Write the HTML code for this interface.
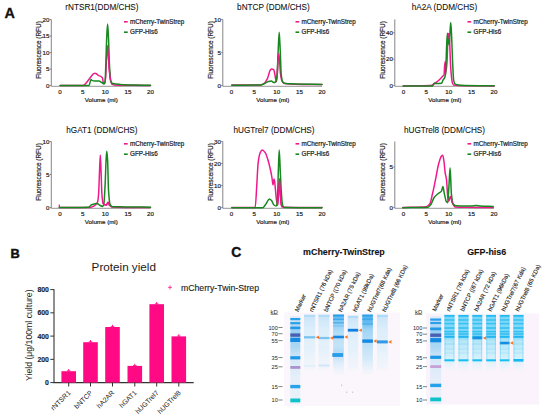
<!DOCTYPE html>
<html><head><meta charset="utf-8"><style>
html,body{margin:0;padding:0;background:#fff;width:550px;height:418px;overflow:hidden}
svg{display:block}
text{font-family:"Liberation Sans", sans-serif}
</style></head><body>
<svg width="550" height="418" viewBox="0 0 550 418">
<rect width="550" height="418" fill="#fff"/>
<g>
<text x="101.90" y="10.30" font-size="8.20" text-anchor="middle" font-weight="normal" fill="#111" stroke="#111" stroke-width="0.08" >rNTSR1(DDM/CHS)</text>
<line x1="51.30" y1="19.50" x2="51.30" y2="86.30" stroke="#777" stroke-width="0.9"/>
<line x1="51.30" y1="86.30" x2="150.50" y2="86.30" stroke="#8a8a8a" stroke-width="0.9"/>
<line x1="49.70" y1="85.60" x2="51.30" y2="85.60" stroke="#777" stroke-width="0.9"/>
<text x="49.50" y="87.80" font-size="6.20" text-anchor="end" font-weight="normal" fill="#222" stroke="#222" stroke-width="0.20" >0</text>
<line x1="49.70" y1="69.07" x2="51.30" y2="69.07" stroke="#777" stroke-width="0.9"/>
<text x="49.50" y="71.27" font-size="6.20" text-anchor="end" font-weight="normal" fill="#222" stroke="#222" stroke-width="0.20" >5</text>
<line x1="49.70" y1="52.55" x2="51.30" y2="52.55" stroke="#777" stroke-width="0.9"/>
<text x="49.50" y="54.75" font-size="6.20" text-anchor="end" font-weight="normal" fill="#222" stroke="#222" stroke-width="0.20" >10</text>
<line x1="49.70" y1="36.02" x2="51.30" y2="36.02" stroke="#777" stroke-width="0.9"/>
<text x="49.50" y="38.23" font-size="6.20" text-anchor="end" font-weight="normal" fill="#222" stroke="#222" stroke-width="0.20" >15</text>
<line x1="49.70" y1="19.50" x2="51.30" y2="19.50" stroke="#777" stroke-width="0.9"/>
<text x="49.50" y="21.70" font-size="6.20" text-anchor="end" font-weight="normal" fill="#222" stroke="#222" stroke-width="0.20" >20</text>
<text x="60.10" y="93.60" font-size="6.20" text-anchor="middle" font-weight="normal" fill="#222" stroke="#222" stroke-width="0.20" >0</text>
<text x="82.70" y="93.60" font-size="6.20" text-anchor="middle" font-weight="normal" fill="#222" stroke="#222" stroke-width="0.20" >5</text>
<text x="105.30" y="93.60" font-size="6.20" text-anchor="middle" font-weight="normal" fill="#222" stroke="#222" stroke-width="0.20" >10</text>
<text x="127.90" y="93.60" font-size="6.20" text-anchor="middle" font-weight="normal" fill="#222" stroke="#222" stroke-width="0.20" >15</text>
<text x="150.50" y="93.60" font-size="6.20" text-anchor="middle" font-weight="normal" fill="#222" stroke="#222" stroke-width="0.20" >20</text>
<text x="101.30" y="101.80" font-size="6.20" text-anchor="middle" font-weight="normal" fill="#222" stroke="#222" stroke-width="0.20" >Volume (ml)</text>
<text x="0" y="0" font-size="6.4" text-anchor="middle" fill="#222" stroke="#222" stroke-width="0.2" transform="translate(41.00,50.00) rotate(-90)">Fluorescence (RFU)</text>
<line x1="124.00" y1="21.80" x2="127.70" y2="21.80" stroke="#F0198C" stroke-width="1.6"/>
<line x1="124.00" y1="32.20" x2="127.70" y2="32.20" stroke="#17871F" stroke-width="1.6"/>
<text x="130.00" y="24.00" font-size="6.30" text-anchor="start" font-weight="normal" fill="#1a1a1a" stroke="#1a1a1a" stroke-width="0.20" >mCherry-TwinStrep</text>
<text x="130.00" y="34.40" font-size="6.30" text-anchor="start" font-weight="normal" fill="#1a1a1a" stroke="#1a1a1a" stroke-width="0.20" >GFP-His6</text>
</g>
<g>
<text x="273.40" y="10.30" font-size="8.20" text-anchor="middle" font-weight="normal" fill="#111" stroke="#111" stroke-width="0.08" >bNTCP (DDM/CHS)</text>
<line x1="222.80" y1="19.50" x2="222.80" y2="86.30" stroke="#777" stroke-width="0.9"/>
<line x1="222.80" y1="86.30" x2="322.00" y2="86.30" stroke="#8a8a8a" stroke-width="0.9"/>
<line x1="221.20" y1="85.60" x2="222.80" y2="85.60" stroke="#777" stroke-width="0.9"/>
<text x="221.00" y="87.80" font-size="6.20" text-anchor="end" font-weight="normal" fill="#222" stroke="#222" stroke-width="0.20" >0</text>
<line x1="221.20" y1="52.55" x2="222.80" y2="52.55" stroke="#777" stroke-width="0.9"/>
<text x="221.00" y="54.75" font-size="6.20" text-anchor="end" font-weight="normal" fill="#222" stroke="#222" stroke-width="0.20" >5</text>
<line x1="221.20" y1="19.50" x2="222.80" y2="19.50" stroke="#777" stroke-width="0.9"/>
<text x="221.00" y="21.70" font-size="6.20" text-anchor="end" font-weight="normal" fill="#222" stroke="#222" stroke-width="0.20" >10</text>
<text x="231.60" y="93.60" font-size="6.20" text-anchor="middle" font-weight="normal" fill="#222" stroke="#222" stroke-width="0.20" >0</text>
<text x="254.20" y="93.60" font-size="6.20" text-anchor="middle" font-weight="normal" fill="#222" stroke="#222" stroke-width="0.20" >5</text>
<text x="276.80" y="93.60" font-size="6.20" text-anchor="middle" font-weight="normal" fill="#222" stroke="#222" stroke-width="0.20" >10</text>
<text x="299.40" y="93.60" font-size="6.20" text-anchor="middle" font-weight="normal" fill="#222" stroke="#222" stroke-width="0.20" >15</text>
<text x="322.00" y="93.60" font-size="6.20" text-anchor="middle" font-weight="normal" fill="#222" stroke="#222" stroke-width="0.20" >20</text>
<text x="272.80" y="101.80" font-size="6.20" text-anchor="middle" font-weight="normal" fill="#222" stroke="#222" stroke-width="0.20" >Volume (ml)</text>
<text x="0" y="0" font-size="6.4" text-anchor="middle" fill="#222" stroke="#222" stroke-width="0.2" transform="translate(212.50,50.00) rotate(-90)">Fluorescence (RFU)</text>
<line x1="295.50" y1="21.80" x2="299.20" y2="21.80" stroke="#F0198C" stroke-width="1.6"/>
<line x1="295.50" y1="32.20" x2="299.20" y2="32.20" stroke="#17871F" stroke-width="1.6"/>
<text x="301.50" y="24.00" font-size="6.30" text-anchor="start" font-weight="normal" fill="#1a1a1a" stroke="#1a1a1a" stroke-width="0.20" >mCherry-TwinStrep</text>
<text x="301.50" y="34.40" font-size="6.30" text-anchor="start" font-weight="normal" fill="#1a1a1a" stroke="#1a1a1a" stroke-width="0.20" >GFP-His6</text>
</g>
<g>
<text x="444.50" y="10.30" font-size="8.20" text-anchor="middle" font-weight="normal" fill="#111" stroke="#111" stroke-width="0.08" >hA2A (DDM/CHS)</text>
<line x1="394.80" y1="19.50" x2="394.80" y2="86.30" stroke="#777" stroke-width="0.9"/>
<line x1="394.80" y1="86.30" x2="494.00" y2="86.30" stroke="#8a8a8a" stroke-width="0.9"/>
<line x1="393.20" y1="85.60" x2="394.80" y2="85.60" stroke="#777" stroke-width="0.9"/>
<text x="393.00" y="87.80" font-size="6.20" text-anchor="end" font-weight="normal" fill="#222" stroke="#222" stroke-width="0.20" >0</text>
<line x1="393.20" y1="59.16" x2="394.80" y2="59.16" stroke="#777" stroke-width="0.9"/>
<text x="393.00" y="61.36" font-size="6.20" text-anchor="end" font-weight="normal" fill="#222" stroke="#222" stroke-width="0.20" >20</text>
<line x1="393.20" y1="32.72" x2="394.80" y2="32.72" stroke="#777" stroke-width="0.9"/>
<text x="393.00" y="34.92" font-size="6.20" text-anchor="end" font-weight="normal" fill="#222" stroke="#222" stroke-width="0.20" >40</text>
<text x="403.60" y="93.60" font-size="6.20" text-anchor="middle" font-weight="normal" fill="#222" stroke="#222" stroke-width="0.20" >0</text>
<text x="426.20" y="93.60" font-size="6.20" text-anchor="middle" font-weight="normal" fill="#222" stroke="#222" stroke-width="0.20" >5</text>
<text x="448.80" y="93.60" font-size="6.20" text-anchor="middle" font-weight="normal" fill="#222" stroke="#222" stroke-width="0.20" >10</text>
<text x="471.40" y="93.60" font-size="6.20" text-anchor="middle" font-weight="normal" fill="#222" stroke="#222" stroke-width="0.20" >15</text>
<text x="494.00" y="93.60" font-size="6.20" text-anchor="middle" font-weight="normal" fill="#222" stroke="#222" stroke-width="0.20" >20</text>
<text x="444.80" y="101.80" font-size="6.20" text-anchor="middle" font-weight="normal" fill="#222" stroke="#222" stroke-width="0.20" >Volume (ml)</text>
<text x="0" y="0" font-size="6.4" text-anchor="middle" fill="#222" stroke="#222" stroke-width="0.2" transform="translate(384.50,50.00) rotate(-90)">Fluorescence (RFU)</text>
<line x1="467.50" y1="21.80" x2="471.20" y2="21.80" stroke="#F0198C" stroke-width="1.6"/>
<line x1="467.50" y1="32.20" x2="471.20" y2="32.20" stroke="#17871F" stroke-width="1.6"/>
<text x="473.50" y="24.00" font-size="6.30" text-anchor="start" font-weight="normal" fill="#1a1a1a" stroke="#1a1a1a" stroke-width="0.20" >mCherry-TwinStrep</text>
<text x="473.50" y="34.40" font-size="6.30" text-anchor="start" font-weight="normal" fill="#1a1a1a" stroke="#1a1a1a" stroke-width="0.20" >GFP-His6</text>
</g>
<g>
<text x="101.90" y="132.90" font-size="8.20" text-anchor="middle" font-weight="normal" fill="#111" stroke="#111" stroke-width="0.08" >hGAT1 (DDM/CHS)</text>
<line x1="51.30" y1="141.50" x2="51.30" y2="208.30" stroke="#777" stroke-width="0.9"/>
<line x1="51.30" y1="208.30" x2="150.50" y2="208.30" stroke="#8a8a8a" stroke-width="0.9"/>
<line x1="49.70" y1="207.60" x2="51.30" y2="207.60" stroke="#777" stroke-width="0.9"/>
<text x="49.50" y="209.80" font-size="6.20" text-anchor="end" font-weight="normal" fill="#222" stroke="#222" stroke-width="0.20" >0</text>
<line x1="49.70" y1="174.55" x2="51.30" y2="174.55" stroke="#777" stroke-width="0.9"/>
<text x="49.50" y="176.75" font-size="6.20" text-anchor="end" font-weight="normal" fill="#222" stroke="#222" stroke-width="0.20" >5</text>
<line x1="49.70" y1="141.50" x2="51.30" y2="141.50" stroke="#777" stroke-width="0.9"/>
<text x="49.50" y="143.70" font-size="6.20" text-anchor="end" font-weight="normal" fill="#222" stroke="#222" stroke-width="0.20" >10</text>
<text x="60.10" y="215.60" font-size="6.20" text-anchor="middle" font-weight="normal" fill="#222" stroke="#222" stroke-width="0.20" >0</text>
<text x="82.70" y="215.60" font-size="6.20" text-anchor="middle" font-weight="normal" fill="#222" stroke="#222" stroke-width="0.20" >5</text>
<text x="105.30" y="215.60" font-size="6.20" text-anchor="middle" font-weight="normal" fill="#222" stroke="#222" stroke-width="0.20" >10</text>
<text x="127.90" y="215.60" font-size="6.20" text-anchor="middle" font-weight="normal" fill="#222" stroke="#222" stroke-width="0.20" >15</text>
<text x="150.50" y="215.60" font-size="6.20" text-anchor="middle" font-weight="normal" fill="#222" stroke="#222" stroke-width="0.20" >20</text>
<text x="101.30" y="223.80" font-size="6.20" text-anchor="middle" font-weight="normal" fill="#222" stroke="#222" stroke-width="0.20" >Volume (ml)</text>
<text x="0" y="0" font-size="6.4" text-anchor="middle" fill="#222" stroke="#222" stroke-width="0.2" transform="translate(41.00,172.00) rotate(-90)">Fluorescence (RFU)</text>
<line x1="124.00" y1="143.80" x2="127.70" y2="143.80" stroke="#F0198C" stroke-width="1.6"/>
<line x1="124.00" y1="154.20" x2="127.70" y2="154.20" stroke="#17871F" stroke-width="1.6"/>
<text x="130.00" y="146.00" font-size="6.30" text-anchor="start" font-weight="normal" fill="#1a1a1a" stroke="#1a1a1a" stroke-width="0.20" >mCherry-TwinStrep</text>
<text x="130.00" y="156.40" font-size="6.30" text-anchor="start" font-weight="normal" fill="#1a1a1a" stroke="#1a1a1a" stroke-width="0.20" >GFP-His6</text>
</g>
<g>
<text x="274.00" y="132.90" font-size="8.20" text-anchor="middle" font-weight="normal" fill="#111" stroke="#111" stroke-width="0.08" >hUGTrel7 (DDM/CHS)</text>
<line x1="222.80" y1="141.50" x2="222.80" y2="208.30" stroke="#777" stroke-width="0.9"/>
<line x1="222.80" y1="208.30" x2="322.00" y2="208.30" stroke="#8a8a8a" stroke-width="0.9"/>
<line x1="221.20" y1="207.60" x2="222.80" y2="207.60" stroke="#777" stroke-width="0.9"/>
<text x="221.00" y="209.80" font-size="6.20" text-anchor="end" font-weight="normal" fill="#222" stroke="#222" stroke-width="0.20" >0</text>
<line x1="221.20" y1="185.57" x2="222.80" y2="185.57" stroke="#777" stroke-width="0.9"/>
<text x="221.00" y="187.77" font-size="6.20" text-anchor="end" font-weight="normal" fill="#222" stroke="#222" stroke-width="0.20" >10</text>
<line x1="221.20" y1="163.53" x2="222.80" y2="163.53" stroke="#777" stroke-width="0.9"/>
<text x="221.00" y="165.73" font-size="6.20" text-anchor="end" font-weight="normal" fill="#222" stroke="#222" stroke-width="0.20" >20</text>
<line x1="221.20" y1="141.50" x2="222.80" y2="141.50" stroke="#777" stroke-width="0.9"/>
<text x="221.00" y="143.70" font-size="6.20" text-anchor="end" font-weight="normal" fill="#222" stroke="#222" stroke-width="0.20" >30</text>
<text x="231.60" y="215.60" font-size="6.20" text-anchor="middle" font-weight="normal" fill="#222" stroke="#222" stroke-width="0.20" >0</text>
<text x="254.20" y="215.60" font-size="6.20" text-anchor="middle" font-weight="normal" fill="#222" stroke="#222" stroke-width="0.20" >5</text>
<text x="276.80" y="215.60" font-size="6.20" text-anchor="middle" font-weight="normal" fill="#222" stroke="#222" stroke-width="0.20" >10</text>
<text x="299.40" y="215.60" font-size="6.20" text-anchor="middle" font-weight="normal" fill="#222" stroke="#222" stroke-width="0.20" >15</text>
<text x="322.00" y="215.60" font-size="6.20" text-anchor="middle" font-weight="normal" fill="#222" stroke="#222" stroke-width="0.20" >20</text>
<text x="272.80" y="223.80" font-size="6.20" text-anchor="middle" font-weight="normal" fill="#222" stroke="#222" stroke-width="0.20" >Volume (ml)</text>
<text x="0" y="0" font-size="6.4" text-anchor="middle" fill="#222" stroke="#222" stroke-width="0.2" transform="translate(212.50,172.00) rotate(-90)">Fluorescence (RFU)</text>
<line x1="295.50" y1="143.80" x2="299.20" y2="143.80" stroke="#F0198C" stroke-width="1.6"/>
<line x1="295.50" y1="154.20" x2="299.20" y2="154.20" stroke="#17871F" stroke-width="1.6"/>
<text x="301.50" y="146.00" font-size="6.30" text-anchor="start" font-weight="normal" fill="#1a1a1a" stroke="#1a1a1a" stroke-width="0.20" >mCherry-TwinStrep</text>
<text x="301.50" y="156.40" font-size="6.30" text-anchor="start" font-weight="normal" fill="#1a1a1a" stroke="#1a1a1a" stroke-width="0.20" >GFP-His6</text>
</g>
<g>
<text x="444.50" y="132.90" font-size="8.20" text-anchor="middle" font-weight="normal" fill="#111" stroke="#111" stroke-width="0.08" >hUGTrel8 (DDM/CHS)</text>
<line x1="394.80" y1="141.50" x2="394.80" y2="208.30" stroke="#777" stroke-width="0.9"/>
<line x1="394.80" y1="208.30" x2="494.00" y2="208.30" stroke="#8a8a8a" stroke-width="0.9"/>
<line x1="393.20" y1="207.60" x2="394.80" y2="207.60" stroke="#777" stroke-width="0.9"/>
<text x="393.00" y="209.80" font-size="6.20" text-anchor="end" font-weight="normal" fill="#222" stroke="#222" stroke-width="0.20" >0</text>
<line x1="393.20" y1="167.05" x2="394.80" y2="167.05" stroke="#777" stroke-width="0.9"/>
<text x="393.00" y="169.25" font-size="6.20" text-anchor="end" font-weight="normal" fill="#222" stroke="#222" stroke-width="0.20" >5</text>
<text x="403.60" y="215.60" font-size="6.20" text-anchor="middle" font-weight="normal" fill="#222" stroke="#222" stroke-width="0.20" >0</text>
<text x="426.20" y="215.60" font-size="6.20" text-anchor="middle" font-weight="normal" fill="#222" stroke="#222" stroke-width="0.20" >5</text>
<text x="448.80" y="215.60" font-size="6.20" text-anchor="middle" font-weight="normal" fill="#222" stroke="#222" stroke-width="0.20" >10</text>
<text x="471.40" y="215.60" font-size="6.20" text-anchor="middle" font-weight="normal" fill="#222" stroke="#222" stroke-width="0.20" >15</text>
<text x="494.00" y="215.60" font-size="6.20" text-anchor="middle" font-weight="normal" fill="#222" stroke="#222" stroke-width="0.20" >20</text>
<text x="444.80" y="223.80" font-size="6.20" text-anchor="middle" font-weight="normal" fill="#222" stroke="#222" stroke-width="0.20" >Volume (ml)</text>
<text x="0" y="0" font-size="6.4" text-anchor="middle" fill="#222" stroke="#222" stroke-width="0.2" transform="translate(384.50,172.00) rotate(-90)">Fluorescence (RFU)</text>
<line x1="467.50" y1="143.80" x2="471.20" y2="143.80" stroke="#F0198C" stroke-width="1.6"/>
<line x1="467.50" y1="154.20" x2="471.20" y2="154.20" stroke="#17871F" stroke-width="1.6"/>
<text x="473.50" y="146.00" font-size="6.30" text-anchor="start" font-weight="normal" fill="#1a1a1a" stroke="#1a1a1a" stroke-width="0.20" >mCherry-TwinStrep</text>
<text x="473.50" y="156.40" font-size="6.30" text-anchor="start" font-weight="normal" fill="#1a1a1a" stroke="#1a1a1a" stroke-width="0.20" >GFP-His6</text>
</g>
<line x1="59.3" y1="204.6" x2="59.3" y2="207.5" stroke="#F0198C" stroke-width="1.2"/>
<path d="M60.10,85.60 C67.83,85.57 75.57,85.59 83.30,85.50 C84.37,85.49 85.43,83.66 86.50,82.50 C87.60,81.30 88.70,79.62 89.80,78.20 C90.77,76.95 91.73,75.43 92.70,74.50 C93.07,74.15 93.43,73.75 93.80,73.60 C94.17,73.45 94.53,73.30 94.90,73.30 C95.37,73.30 95.83,73.51 96.30,73.70 C96.93,73.96 97.57,74.92 98.20,75.30 C99.17,75.88 100.13,75.94 101.10,76.60 C101.57,76.92 102.03,77.27 102.50,78.20 C102.77,78.73 103.03,82.10 103.30,82.50 C103.70,83.11 104.10,83.50 104.50,83.50 C104.87,83.50 105.23,80.99 105.60,78.00 C105.90,75.55 106.20,64.96 106.50,60.00 C106.83,54.49 107.17,46.00 107.50,46.00 C107.80,46.00 108.10,52.11 108.40,56.00 C108.70,59.89 109.00,66.70 109.30,70.00 C109.70,74.40 110.10,78.29 110.50,80.00 C111.00,82.14 111.50,84.01 112.00,84.20 C114.00,84.97 116.00,85.17 118.00,85.20 C128.83,85.36 139.67,85.33 150.50,85.40" fill="none" stroke="#F0198C" stroke-width="1.5" stroke-linejoin="round" stroke-linecap="round"/>
<path d="M60.10,85.60 C69.77,85.57 79.43,85.59 89.10,85.50 C89.70,85.49 90.30,79.60 90.90,79.60 C91.27,79.60 91.63,80.24 92.00,80.40 C92.83,80.76 93.67,81.10 94.50,81.10 C95.97,81.10 97.43,81.10 98.90,81.10 C99.87,81.10 100.83,81.95 101.80,82.50 C102.53,82.92 103.27,84.00 104.00,84.00 C104.33,84.00 104.67,83.45 105.00,82.50 C105.30,81.64 105.60,69.79 105.90,62.00 C106.17,55.08 106.43,43.47 106.70,38.00 C107.00,31.84 107.30,24.10 107.60,24.10 C107.90,24.10 108.20,32.06 108.50,38.00 C108.83,44.60 109.17,60.58 109.50,66.00 C109.97,73.59 110.43,80.52 110.90,81.50 C111.50,82.75 112.10,83.34 112.70,83.50 C115.13,84.14 117.57,84.24 120.00,84.40 C125.00,84.72 130.00,84.87 135.00,85.00 C140.17,85.14 145.33,85.20 150.50,85.30" fill="none" stroke="#17871F" stroke-width="1.5" stroke-linejoin="round" stroke-linecap="round"/>
<path d="M107.50,46.00 C107.80,49.33 108.10,52.11 108.40,56.00 C108.70,59.89 109.00,66.70 109.30,70.00 C109.70,74.40 110.10,76.67 110.50,80.00" fill="none" stroke="#F0198C" stroke-width="1.3" stroke-linejoin="round" stroke-linecap="round"/>
<path d="M231.80,85.00 C241.43,84.97 251.07,84.99 260.70,84.90 C262.00,84.89 263.30,83.99 264.60,83.00 C265.53,82.29 266.47,80.59 267.40,78.70 C268.37,76.75 269.33,71.14 270.30,70.10 C270.77,69.60 271.23,69.10 271.70,69.10 C272.37,69.10 273.03,69.25 273.70,69.60 C274.00,69.76 274.30,71.64 274.60,73.00 C274.93,74.51 275.27,77.33 275.60,78.70 C275.90,79.93 276.20,81.60 276.50,81.60 C276.77,81.60 277.03,77.46 277.30,74.00 C277.53,70.97 277.77,62.80 278.00,60.00 C278.23,57.20 278.47,54.00 278.70,54.00 C278.97,54.00 279.23,57.42 279.50,60.00 C279.83,63.22 280.17,71.59 280.50,74.00 C281.00,77.62 281.50,80.17 282.00,81.00 C282.90,82.49 283.80,83.36 284.70,83.50 C288.13,84.02 291.57,84.11 295.00,84.20 C304.00,84.44 313.00,84.47 322.00,84.60" fill="none" stroke="#F0198C" stroke-width="1.5" stroke-linejoin="round" stroke-linecap="round"/>
<path d="M231.80,85.20 C241.43,85.10 251.07,85.16 260.70,84.90 C262.00,84.87 263.30,84.04 264.60,83.50 C265.87,82.97 267.13,81.92 268.40,81.60 C269.37,81.36 270.33,81.10 271.30,81.10 C272.23,81.10 273.17,82.50 274.10,82.50 C274.60,82.50 275.10,82.31 275.60,82.00 C276.07,81.71 276.53,79.40 277.00,76.00 C277.40,73.09 277.80,57.79 278.20,50.00 C278.53,43.50 278.87,32.20 279.20,32.20 C279.53,32.20 279.87,43.19 280.20,50.00 C280.53,56.81 280.87,71.01 281.20,74.00 C281.73,78.79 282.27,81.84 282.80,82.30 C283.73,83.10 284.67,83.42 285.60,83.50 C288.73,83.78 291.87,83.80 295.00,83.90 C304.00,84.18 313.00,84.30 322.00,84.50" fill="none" stroke="#17871F" stroke-width="1.5" stroke-linejoin="round" stroke-linecap="round"/>
<path d="M277.30,74.00 C277.53,69.33 277.77,62.80 278.00,60.00 C278.23,57.20 278.47,56.00 278.70,54.00" fill="none" stroke="#F0198C" stroke-width="1.3" stroke-linejoin="round" stroke-linecap="round"/>
<path d="M403.20,85.90 C412.37,85.80 421.53,85.86 430.70,85.60 C432.00,85.56 433.30,84.33 434.60,83.50 C436.20,82.48 437.80,81.14 439.40,79.70 C440.67,78.56 441.93,77.08 443.20,75.80 C443.50,75.50 443.80,75.52 444.10,74.90 C444.27,74.56 444.43,67.62 444.60,66.00 C444.83,63.74 445.07,61.50 445.30,61.50 C445.53,61.50 445.77,72.00 446.00,72.00 C446.33,72.00 446.67,66.77 447.00,62.00 C447.30,57.71 447.60,43.58 447.90,40.00 C448.17,36.82 448.43,33.60 448.70,33.60 C448.97,33.60 449.23,36.89 449.50,40.00 C449.87,44.27 450.23,60.15 450.60,66.00 C450.90,70.78 451.20,74.37 451.50,77.00 C451.77,79.33 452.03,81.73 452.30,82.50 C452.77,83.85 453.23,84.82 453.70,84.90 C457.47,85.57 461.23,85.65 465.00,85.70 C474.73,85.84 484.47,85.83 494.20,85.90" fill="none" stroke="#F0198C" stroke-width="1.5" stroke-linejoin="round" stroke-linecap="round"/>
<path d="M403.20,86.00 C413.03,85.97 422.87,86.00 432.70,85.90 C433.17,85.90 433.63,83.30 434.10,83.30 C434.57,83.30 435.03,83.60 435.50,83.60 C437.57,83.60 439.63,83.52 441.70,83.20 C442.20,83.12 442.70,80.56 443.20,79.70 C443.67,78.90 444.13,78.76 444.60,77.80 C444.93,77.12 445.27,76.33 445.60,74.00 C445.83,72.37 446.07,60.66 446.30,55.00 C446.63,46.91 446.97,33.30 447.30,33.30 C447.60,33.30 447.90,38.20 448.20,40.00 C448.53,42.00 448.87,45.00 449.20,45.00 C449.47,45.00 449.73,35.79 450.00,32.00 C450.25,28.45 450.50,22.50 450.75,22.50 C451.03,22.50 451.32,30.45 451.60,36.00 C451.93,42.53 452.27,55.15 452.60,62.00 C452.97,69.54 453.33,79.19 453.70,80.60 C454.33,83.04 454.97,84.21 455.60,84.40 C458.73,85.33 461.87,85.55 465.00,85.60 C474.73,85.75 484.47,85.73 494.20,85.80" fill="none" stroke="#17871F" stroke-width="1.5" stroke-linejoin="round" stroke-linecap="round"/>
<path d="M448.70,33.60 C448.97,35.73 449.23,37.87 449.50,40.00" fill="none" stroke="#F0198C" stroke-width="1.3" stroke-linejoin="round" stroke-linecap="round"/>
<path d="M59.60,207.50 C69.47,207.53 79.33,207.60 89.20,207.60 C90.60,207.60 92.00,207.00 93.40,206.40 C94.23,206.04 95.07,205.35 95.90,204.50 C96.47,203.92 97.03,203.50 97.60,202.00 C97.93,201.12 98.27,198.05 98.60,194.00 C98.90,190.35 99.20,178.79 99.50,172.00 C99.77,165.96 100.03,155.10 100.30,155.10 C100.57,155.10 100.83,165.63 101.10,172.00 C101.37,178.37 101.63,190.48 101.90,194.00 C102.27,198.84 102.63,202.58 103.00,203.20 C103.57,204.16 104.13,204.48 104.70,204.70 C105.23,204.91 105.77,205.10 106.30,205.10 C106.87,205.10 107.43,202.20 108.00,202.20 C108.43,202.20 108.87,204.58 109.30,205.10 C110.13,206.10 110.97,206.92 111.80,207.00 C116.20,207.40 120.60,207.47 125.00,207.50 C133.50,207.57 142.00,207.57 150.50,207.60" fill="none" stroke="#F0198C" stroke-width="1.5" stroke-linejoin="round" stroke-linecap="round"/>
<path d="M59.20,207.60 C69.07,207.47 78.93,207.57 88.80,207.20 C89.50,207.17 90.20,205.44 90.90,205.10 C91.73,204.69 92.57,204.58 93.40,204.30 C94.23,204.02 95.07,203.40 95.90,203.40 C96.47,203.40 97.03,203.61 97.60,203.80 C98.27,204.03 98.93,204.75 99.60,205.10 C100.60,205.63 101.60,206.40 102.60,206.40 C103.00,206.40 103.40,205.54 103.80,204.30 C104.23,202.96 104.67,193.16 105.10,185.00 C105.43,178.72 105.77,165.43 106.10,160.00 C106.33,156.20 106.57,151.30 106.80,151.30 C107.07,151.30 107.33,155.67 107.60,160.00 C107.90,164.87 108.20,185.53 108.50,190.00 C109.03,197.95 109.57,203.28 110.10,204.30 C110.93,205.89 111.77,206.78 112.60,206.80 C116.73,206.88 120.87,206.86 125.00,206.90 C133.50,206.98 142.00,207.10 150.50,207.20" fill="none" stroke="#17871F" stroke-width="1.5" stroke-linejoin="round" stroke-linecap="round"/>
<path d="M103.00,203.20 C103.57,203.70 104.13,204.48 104.70,204.70 C105.23,204.91 105.77,205.10 106.30,205.10 C106.87,205.10 107.43,202.20 108.00,202.20 C108.43,202.20 108.87,204.13 109.30,205.10" fill="none" stroke="#F0198C" stroke-width="1.3" stroke-linejoin="round" stroke-linecap="round"/>
<path d="M231.80,207.60 C239.60,207.53 247.40,207.59 255.20,207.40 C255.73,207.39 256.27,192.95 256.80,184.80 C257.23,178.18 257.67,166.95 258.10,163.30 C258.70,158.25 259.30,154.99 259.90,153.50 C260.67,151.59 261.43,149.90 262.20,149.90 C263.20,149.90 264.20,151.25 265.20,152.60 C266.10,153.82 267.00,156.84 267.90,159.70 C268.80,162.56 269.70,166.31 270.60,170.50 C271.07,172.67 271.53,175.15 272.00,178.00 C272.33,180.04 272.67,185.00 273.00,185.00 C273.33,185.00 273.67,179.00 274.00,179.00 C274.20,179.00 274.40,180.01 274.60,181.00 C274.83,182.15 275.07,185.67 275.30,188.00 C275.70,192.00 276.10,197.51 276.50,200.00 C276.87,202.28 277.23,205.00 277.60,205.00 C277.90,205.00 278.20,198.92 278.50,195.00 C278.83,190.64 279.17,179.00 279.50,179.00 C279.80,179.00 280.10,190.30 280.40,195.00 C280.60,198.13 280.80,202.25 281.00,203.50 C281.27,205.17 281.53,206.42 281.80,206.60 C282.53,207.10 283.27,207.28 284.00,207.30 C296.67,207.57 309.33,207.50 322.00,207.60" fill="none" stroke="#F0198C" stroke-width="1.5" stroke-linejoin="round" stroke-linecap="round"/>
<path d="M231.80,207.80 C242.07,207.80 252.33,207.80 262.60,207.80 C263.77,207.80 264.93,205.20 266.10,203.70 C267.20,202.28 268.30,199.00 269.40,199.00 C270.10,199.00 270.80,199.79 271.50,200.50 C272.33,201.34 273.17,204.36 274.00,205.00 C274.67,205.51 275.33,206.00 276.00,206.00 C276.33,206.00 276.67,205.46 277.00,204.50 C277.23,203.83 277.47,198.27 277.70,193.00 C277.90,188.49 278.10,177.84 278.30,172.00 C278.60,163.24 278.90,149.90 279.20,149.90 C279.57,149.90 279.93,164.65 280.30,172.00 C280.60,178.01 280.90,185.20 281.20,190.00 C281.50,194.80 281.80,199.93 282.10,202.00 C282.40,204.07 282.70,205.62 283.00,206.20 C283.37,206.91 283.73,207.49 284.10,207.50 C296.73,207.69 309.37,207.63 322.00,207.70" fill="none" stroke="#17871F" stroke-width="1.5" stroke-linejoin="round" stroke-linecap="round"/>
<path d="M277.60,205.00 C277.90,201.67 278.20,198.92 278.50,195.00 C278.83,190.64 279.17,179.00 279.50,179.00 C279.80,179.00 280.10,190.30 280.40,195.00 C280.60,198.13 280.80,202.25 281.00,203.50 C281.27,205.17 281.53,205.57 281.80,206.60" fill="none" stroke="#F0198C" stroke-width="1.3" stroke-linejoin="round" stroke-linecap="round"/>
<path d="M402.80,207.40 C410.63,207.17 418.47,207.28 426.30,206.70 C427.50,206.61 428.70,205.34 429.90,203.60 C430.77,202.34 431.63,197.41 432.50,193.80 C433.40,190.05 434.30,185.53 435.20,181.20 C436.40,175.43 437.60,167.41 438.80,163.30 C439.70,160.22 440.60,157.03 441.50,156.10 C441.93,155.65 442.37,155.20 442.80,155.20 C443.27,155.20 443.73,159.81 444.20,163.30 C444.50,165.54 444.80,170.23 445.10,172.30 C445.57,175.52 446.03,175.92 446.50,179.40 C446.93,182.63 447.37,194.70 447.80,197.30 C448.10,199.10 448.40,200.90 448.70,200.90 C449.30,200.90 449.90,196.50 450.50,196.50 C451.10,196.50 451.70,201.35 452.30,202.70 C453.17,204.65 454.03,206.82 454.90,206.90 C458.27,207.22 461.63,207.25 465.00,207.30 C474.40,207.43 483.80,207.43 493.20,207.50" fill="none" stroke="#F0198C" stroke-width="1.5" stroke-linejoin="round" stroke-linecap="round"/>
<path d="M402.80,207.70 C411.20,207.53 419.60,207.64 428.00,207.20 C428.93,207.15 429.87,205.71 430.80,204.50 C431.97,202.99 433.13,198.84 434.30,197.30 C435.50,195.71 436.70,194.82 437.90,193.80 C439.10,192.78 440.30,192.71 441.50,191.10 C441.97,190.48 442.43,186.60 442.90,186.60 C443.33,186.60 443.77,191.02 444.20,192.90 C444.97,196.23 445.73,200.95 446.50,201.80 C446.93,202.28 447.37,202.70 447.80,202.70 C448.20,202.70 448.60,190.87 449.00,184.80 C449.37,179.23 449.73,167.80 450.10,167.80 C450.53,167.80 450.97,189.85 451.40,193.80 C452.00,199.26 452.60,203.22 453.20,204.00 C454.07,205.12 454.93,205.76 455.80,205.80 C458.87,205.96 461.93,206.00 465.00,206.00 C467.33,206.00 469.67,205.96 472.00,205.90 C473.33,205.86 474.67,205.50 476.00,205.50 C477.33,205.50 478.67,205.82 480.00,205.90 C484.40,206.16 488.80,206.23 493.20,206.40" fill="none" stroke="#17871F" stroke-width="1.5" stroke-linejoin="round" stroke-linecap="round"/>
<path d="M448.70,200.90 C449.30,199.43 449.90,196.50 450.50,196.50 C451.10,196.50 451.70,200.63 452.30,202.70" fill="none" stroke="#F0198C" stroke-width="1.3" stroke-linejoin="round" stroke-linecap="round"/>
<text x="4.40" y="17.80" font-size="14.40" text-anchor="start" font-weight="bold" fill="#111" stroke="#111" stroke-width="0.30" >A</text>
<text x="10.60" y="257.50" font-size="12.80" text-anchor="start" font-weight="bold" fill="#111" stroke="#111" stroke-width="0.45" >B</text>
<text x="231.30" y="257.20" font-size="13.90" text-anchor="start" font-weight="bold" fill="#111" stroke="#111" stroke-width="0.35" >C</text>
<text x="91.60" y="271.20" font-size="11.70" text-anchor="start" font-weight="normal" fill="#1a1a1a" >Protein yield</text>
<path d="M168.1,287.4 L171.9,287.4 M170,285.4 L170,289.4" stroke="#FF0A84" stroke-width="0.75"/>
<text x="180.90" y="291.20" font-size="8.74" text-anchor="start" font-weight="normal" fill="#1a1a1a" stroke="#1a1a1a" stroke-width="0.12" >mCherry-Twin-Strep</text>
<line x1="54.00" y1="289.2" x2="54.00" y2="383.10" stroke="#333" stroke-width="1.1"/>
<line x1="53.50" y1="382.60" x2="193.7" y2="382.60" stroke="#333" stroke-width="1.1"/>
<line x1="50.3" y1="382.60" x2="54.00" y2="382.60" stroke="#333" stroke-width="1.0"/>
<text x="48.90" y="385.10" font-size="6.90" text-anchor="end" font-weight="bold" fill="#222" stroke="#222" stroke-width="0.15" >0</text>
<line x1="50.3" y1="359.35" x2="54.00" y2="359.35" stroke="#333" stroke-width="1.0"/>
<text x="48.90" y="361.85" font-size="6.90" text-anchor="end" font-weight="bold" fill="#222" stroke="#222" stroke-width="0.15" >200</text>
<line x1="50.3" y1="336.10" x2="54.00" y2="336.10" stroke="#333" stroke-width="1.0"/>
<text x="48.90" y="338.60" font-size="6.90" text-anchor="end" font-weight="bold" fill="#222" stroke="#222" stroke-width="0.15" >400</text>
<line x1="50.3" y1="312.85" x2="54.00" y2="312.85" stroke="#333" stroke-width="1.0"/>
<text x="48.90" y="315.35" font-size="6.90" text-anchor="end" font-weight="bold" fill="#222" stroke="#222" stroke-width="0.15" >600</text>
<line x1="50.3" y1="289.60" x2="54.00" y2="289.60" stroke="#333" stroke-width="1.0"/>
<text x="48.90" y="292.10" font-size="6.90" text-anchor="end" font-weight="bold" fill="#222" stroke="#222" stroke-width="0.15" >800</text>
<text x="0" y="0" font-size="8.7" text-anchor="middle" fill="#222" transform="translate(32.4,335.2) rotate(-90)">Yield (μg/100ml culture)</text>
<rect x="61.40" y="371.20" width="14.6" height="11.40" fill="#FF0A84"/>
<line x1="68.70" y1="369.00" x2="68.70" y2="371.20" stroke="#FF0A84" stroke-width="0.9"/>
<line x1="66.90" y1="370.90" x2="70.50" y2="370.90" stroke="#FF0A84" stroke-width="0.9"/>
<line x1="68.70" y1="382.60" x2="68.70" y2="386.50" stroke="#333" stroke-width="1.0"/>
<text x="0" y="0" font-size="6.9" text-anchor="end" fill="#222" transform="translate(71.10,393.20) rotate(-45)">rNTSR1</text>
<rect x="83.20" y="342.20" width="14.6" height="40.40" fill="#FF0A84"/>
<line x1="90.50" y1="340.00" x2="90.50" y2="342.20" stroke="#FF0A84" stroke-width="0.9"/>
<line x1="88.70" y1="341.90" x2="92.30" y2="341.90" stroke="#FF0A84" stroke-width="0.9"/>
<line x1="90.50" y1="382.60" x2="90.50" y2="386.50" stroke="#333" stroke-width="1.0"/>
<text x="0" y="0" font-size="6.9" text-anchor="end" fill="#222" transform="translate(92.90,393.20) rotate(-45)">bNTCP</text>
<rect x="105.20" y="327.00" width="14.6" height="55.60" fill="#FF0A84"/>
<line x1="112.50" y1="324.80" x2="112.50" y2="327.00" stroke="#FF0A84" stroke-width="0.9"/>
<line x1="110.70" y1="326.70" x2="114.30" y2="326.70" stroke="#FF0A84" stroke-width="0.9"/>
<line x1="112.50" y1="382.60" x2="112.50" y2="386.50" stroke="#333" stroke-width="1.0"/>
<text x="0" y="0" font-size="6.9" text-anchor="end" fill="#222" transform="translate(114.90,393.20) rotate(-45)">hA2AR</text>
<rect x="127.50" y="365.90" width="14.6" height="16.70" fill="#FF0A84"/>
<line x1="134.80" y1="363.70" x2="134.80" y2="365.90" stroke="#FF0A84" stroke-width="0.9"/>
<line x1="133.00" y1="365.60" x2="136.60" y2="365.60" stroke="#FF0A84" stroke-width="0.9"/>
<line x1="134.80" y1="382.60" x2="134.80" y2="386.50" stroke="#333" stroke-width="1.0"/>
<text x="0" y="0" font-size="6.9" text-anchor="end" fill="#222" transform="translate(137.20,393.20) rotate(-45)">hGAT1</text>
<rect x="149.40" y="304.20" width="14.6" height="78.40" fill="#FF0A84"/>
<line x1="156.70" y1="302.00" x2="156.70" y2="304.20" stroke="#FF0A84" stroke-width="0.9"/>
<line x1="154.90" y1="303.90" x2="158.50" y2="303.90" stroke="#FF0A84" stroke-width="0.9"/>
<line x1="156.70" y1="382.60" x2="156.70" y2="386.50" stroke="#333" stroke-width="1.0"/>
<text x="0" y="0" font-size="6.9" text-anchor="end" fill="#222" transform="translate(159.10,393.20) rotate(-45)">hUGTrel7</text>
<rect x="171.50" y="336.40" width="14.6" height="46.20" fill="#FF0A84"/>
<line x1="178.80" y1="334.20" x2="178.80" y2="336.40" stroke="#FF0A84" stroke-width="0.9"/>
<line x1="177.00" y1="336.10" x2="180.60" y2="336.10" stroke="#FF0A84" stroke-width="0.9"/>
<line x1="178.80" y1="382.60" x2="178.80" y2="386.50" stroke="#333" stroke-width="1.0"/>
<text x="0" y="0" font-size="6.9" text-anchor="end" fill="#222" transform="translate(181.20,393.20) rotate(-45)">hUGTrel8</text>
<text x="303.10" y="254.90" font-size="8.90" text-anchor="start" font-weight="bold" fill="#111" stroke="#111" stroke-width="0.10" >mCherry-TwinStrep</text>
<text x="467.20" y="254.50" font-size="8.90" text-anchor="start" font-weight="bold" fill="#111" stroke="#111" stroke-width="0.10" >GFP-his6</text>
<defs>
<filter id="blr" x="-20%" y="-20%" width="140%" height="140%"><feGaussianBlur stdDeviation="0.65"/></filter>
<filter id="blr2" x="-30%" y="-30%" width="160%" height="160%"><feGaussianBlur stdDeviation="0.55"/></filter>
<linearGradient id="g1" x1="0" y1="0" x2="0" y2="1"><stop offset="0.0000" stop-color="#BFE0F7" stop-opacity="0.30"/><stop offset="0.0682" stop-color="#A8D6F4" stop-opacity="0.70"/><stop offset="0.1818" stop-color="#8CCBF2" stop-opacity="0.90"/><stop offset="0.3636" stop-color="#A6D6F4" stop-opacity="0.90"/><stop offset="0.5000" stop-color="#C6E4F8" stop-opacity="0.70"/><stop offset="0.7273" stop-color="#D0E8F8" stop-opacity="0.50"/><stop offset="1.0000" stop-color="#D0E8F8" stop-opacity="0.40"/></linearGradient>
<linearGradient id="g2" x1="0" y1="0" x2="0" y2="1"><stop offset="0.0000" stop-color="#C2E2F8" stop-opacity="0.90"/><stop offset="0.1304" stop-color="#CFE8F9" stop-opacity="0.90"/><stop offset="0.3043" stop-color="#D8EDFA" stop-opacity="0.85"/><stop offset="0.6174" stop-color="#E0F0FA" stop-opacity="0.80"/><stop offset="0.9304" stop-color="#E8F4FB" stop-opacity="0.50"/><stop offset="1.0000" stop-color="#F0F6FB" stop-opacity="0.00"/></linearGradient>
<linearGradient id="g3" x1="0" y1="0" x2="0" y2="1"><stop offset="0.0000" stop-color="#C2E2F8" stop-opacity="0.90"/><stop offset="0.1304" stop-color="#CFE8F9" stop-opacity="0.90"/><stop offset="0.3043" stop-color="#D8EDFA" stop-opacity="0.85"/><stop offset="0.6174" stop-color="#E0F0FA" stop-opacity="0.80"/><stop offset="0.9304" stop-color="#E8F4FB" stop-opacity="0.50"/><stop offset="1.0000" stop-color="#F0F6FB" stop-opacity="0.00"/></linearGradient>
<linearGradient id="g4" x1="0" y1="0" x2="0" y2="1"><stop offset="0.0000" stop-color="#4FB3EE" stop-opacity="0.95"/><stop offset="0.0588" stop-color="#64BDF0" stop-opacity="0.95"/><stop offset="0.1933" stop-color="#98D1F4" stop-opacity="0.95"/><stop offset="0.3277" stop-color="#B2DDF6" stop-opacity="0.95"/><stop offset="0.5294" stop-color="#BEE2F7" stop-opacity="0.90"/><stop offset="0.6303" stop-color="#ACD9F5" stop-opacity="0.90"/><stop offset="0.7983" stop-color="#D0E9F9" stop-opacity="0.80"/><stop offset="1.0000" stop-color="#E6F2FB" stop-opacity="0.30"/></linearGradient>
<linearGradient id="g5" x1="0" y1="0" x2="0" y2="1"><stop offset="-0.0177" stop-color="#C2E2F8" stop-opacity="0.90"/><stop offset="0.1150" stop-color="#CFE8F9" stop-opacity="0.90"/><stop offset="0.2920" stop-color="#D8EDFA" stop-opacity="0.85"/><stop offset="0.6106" stop-color="#E0F0FA" stop-opacity="0.80"/><stop offset="0.9292" stop-color="#E8F4FB" stop-opacity="0.50"/><stop offset="1.0000" stop-color="#F0F6FB" stop-opacity="0.00"/></linearGradient>
<linearGradient id="g6" x1="0" y1="0" x2="0" y2="1"><stop offset="0.0000" stop-color="#44ADEC" stop-opacity="0.95"/><stop offset="0.1261" stop-color="#5CB8EE" stop-opacity="0.95"/><stop offset="0.2605" stop-color="#9CD3F4" stop-opacity="0.95"/><stop offset="0.5126" stop-color="#B6DEF6" stop-opacity="0.90"/><stop offset="0.7647" stop-color="#CDE8F8" stop-opacity="0.80"/><stop offset="1.0000" stop-color="#E6F2FB" stop-opacity="0.30"/></linearGradient>
<linearGradient id="g7" x1="0" y1="0" x2="0" y2="1"><stop offset="0.0000" stop-color="#C2E2F8" stop-opacity="0.90"/><stop offset="0.1304" stop-color="#CFE8F9" stop-opacity="0.90"/><stop offset="0.3043" stop-color="#D8EDFA" stop-opacity="0.85"/><stop offset="0.6174" stop-color="#E0F0FA" stop-opacity="0.80"/><stop offset="0.9304" stop-color="#E8F4FB" stop-opacity="0.50"/><stop offset="1.0000" stop-color="#F0F6FB" stop-opacity="0.00"/></linearGradient>
<linearGradient id="g8" x1="0" y1="0" x2="0" y2="1"><stop offset="0.0000" stop-color="#BFE0F7" stop-opacity="0.30"/><stop offset="0.0682" stop-color="#A8D6F4" stop-opacity="0.70"/><stop offset="0.1818" stop-color="#8CCBF2" stop-opacity="0.90"/><stop offset="0.3636" stop-color="#A6D6F4" stop-opacity="0.90"/><stop offset="0.5000" stop-color="#C6E4F8" stop-opacity="0.70"/><stop offset="0.7273" stop-color="#D0E8F8" stop-opacity="0.50"/><stop offset="1.0000" stop-color="#D0E8F8" stop-opacity="0.40"/></linearGradient>
<linearGradient id="g9" x1="0" y1="0" x2="0" y2="1"><stop offset="0.0000" stop-color="#74D4F6" stop-opacity="0.95"/><stop offset="0.3860" stop-color="#82D8F6" stop-opacity="0.95"/><stop offset="0.4561" stop-color="#B2E6F8" stop-opacity="0.95"/><stop offset="0.7018" stop-color="#C8EEFA" stop-opacity="0.90"/><stop offset="0.8246" stop-color="#D8F2FB" stop-opacity="0.80"/><stop offset="1.0000" stop-color="#E6F4FB" stop-opacity="0.00"/></linearGradient>
<linearGradient id="g10" x1="0" y1="0" x2="0" y2="1"><stop offset="0.0000" stop-color="#74D4F6" stop-opacity="0.95"/><stop offset="0.3860" stop-color="#82D8F6" stop-opacity="0.95"/><stop offset="0.4561" stop-color="#B2E6F8" stop-opacity="0.95"/><stop offset="0.7018" stop-color="#C8EEFA" stop-opacity="0.90"/><stop offset="0.8246" stop-color="#D8F2FB" stop-opacity="0.80"/><stop offset="1.0000" stop-color="#E6F4FB" stop-opacity="0.00"/></linearGradient>
<linearGradient id="g11" x1="0" y1="0" x2="0" y2="1"><stop offset="0.0000" stop-color="#74D4F6" stop-opacity="0.95"/><stop offset="0.3860" stop-color="#82D8F6" stop-opacity="0.95"/><stop offset="0.4561" stop-color="#B2E6F8" stop-opacity="0.95"/><stop offset="0.7018" stop-color="#C8EEFA" stop-opacity="0.90"/><stop offset="0.8246" stop-color="#D8F2FB" stop-opacity="0.80"/><stop offset="1.0000" stop-color="#E6F4FB" stop-opacity="0.00"/></linearGradient>
<linearGradient id="g12" x1="0" y1="0" x2="0" y2="1"><stop offset="0.0000" stop-color="#74D4F6" stop-opacity="0.95"/><stop offset="0.3860" stop-color="#82D8F6" stop-opacity="0.95"/><stop offset="0.4561" stop-color="#B2E6F8" stop-opacity="0.95"/><stop offset="0.7018" stop-color="#C8EEFA" stop-opacity="0.90"/><stop offset="0.8246" stop-color="#D8F2FB" stop-opacity="0.80"/><stop offset="1.0000" stop-color="#E6F4FB" stop-opacity="0.00"/></linearGradient>
<linearGradient id="g13" x1="0" y1="0" x2="0" y2="1"><stop offset="0.0000" stop-color="#74D4F6" stop-opacity="0.95"/><stop offset="0.3860" stop-color="#82D8F6" stop-opacity="0.95"/><stop offset="0.4561" stop-color="#B2E6F8" stop-opacity="0.95"/><stop offset="0.7018" stop-color="#C8EEFA" stop-opacity="0.90"/><stop offset="0.8246" stop-color="#D8F2FB" stop-opacity="0.80"/><stop offset="1.0000" stop-color="#E6F4FB" stop-opacity="0.00"/></linearGradient>
<linearGradient id="g14" x1="0" y1="0" x2="0" y2="1"><stop offset="0.0000" stop-color="#74D4F6" stop-opacity="0.95"/><stop offset="0.3860" stop-color="#82D8F6" stop-opacity="0.95"/><stop offset="0.4561" stop-color="#B2E6F8" stop-opacity="0.95"/><stop offset="0.7018" stop-color="#C8EEFA" stop-opacity="0.90"/><stop offset="0.8246" stop-color="#D8F2FB" stop-opacity="0.80"/><stop offset="1.0000" stop-color="#E6F4FB" stop-opacity="0.00"/></linearGradient>
</defs>
<rect x="284" y="312.5" width="116" height="93.5" fill="#FBF6FB"/>
<g filter="url(#blr)">
</g><g filter="url(#blr2)">
<rect x="290.30" y="316.00" width="10.00" height="88.00" fill="url(#g1)"/>
<rect x="290.30" y="318.00" width="10.00" height="2.20" fill="#2AA0EA" opacity="1.00"/>
<rect x="290.30" y="322.10" width="10.00" height="2.20" fill="#2AA0EA" opacity="1.00"/>
<rect x="290.30" y="326.60" width="10.00" height="2.60" fill="#2498E6" opacity="1.00"/>
<rect x="290.30" y="333.40" width="10.00" height="3.40" fill="#4A5FB2" opacity="1.00"/>
<rect x="290.30" y="337.80" width="10.00" height="4.20" fill="#128AE0" opacity="1.00"/>
<rect x="290.30" y="356.20" width="10.00" height="3.20" fill="#1A98E6" opacity="1.00"/>
<rect x="290.30" y="366.00" width="10.00" height="2.80" fill="#A58AC8" opacity="0.90"/>
<rect x="290.30" y="384.90" width="10.00" height="3.40" fill="#26A2EA" opacity="1.00"/>
<rect x="290.30" y="398.50" width="10.00" height="3.80" fill="#10C2C8" opacity="1.00"/>
</g><g filter="url(#blr)">
<rect x="304.00" y="314.50" width="11.30" height="57.50" fill="url(#g2)"/>
<rect x="304.00" y="315.20" width="11.30" height="1.60" fill="#A6D6F4" opacity="0.80"/>
<rect x="304.00" y="336.20" width="11.30" height="2.20" fill="#6CBCEE" opacity="0.90"/>
<rect x="304.00" y="365.25" width="11.30" height="1.50" fill="#D4EAF8" opacity="0.60"/>
<rect x="318.40" y="314.50" width="11.10" height="57.50" fill="url(#g3)"/>
<rect x="318.40" y="315.20" width="11.10" height="1.60" fill="#A6D6F4" opacity="0.80"/>
<rect x="318.40" y="336.90" width="11.10" height="2.20" fill="#70BEEE" opacity="0.90"/>
<rect x="318.40" y="364.50" width="11.10" height="2.00" fill="#C8E4F8" opacity="0.80"/>
<rect x="333.10" y="314.50" width="10.80" height="59.50" fill="url(#g4)"/>
<rect x="333.10" y="314.70" width="10.80" height="1.80" fill="#2A9CEA" opacity="0.95"/>
<rect x="333.10" y="318.55" width="10.80" height="1.50" fill="#3AA6EC" opacity="0.90"/>
<rect x="333.10" y="322.05" width="10.80" height="1.50" fill="#48ACEC" opacity="0.85"/>
<rect x="333.10" y="325.40" width="10.80" height="1.20" fill="#6ABCF0" opacity="0.70"/>
<rect x="333.10" y="335.70" width="10.80" height="2.60" fill="#1286E0" opacity="1.00"/>
<rect x="332.30" y="353.10" width="10.80" height="3.80" fill="#2A9CE8" opacity="1.00"/>
<rect x="347.80" y="315.50" width="10.40" height="56.50" fill="url(#g5)"/>
<rect x="347.80" y="316.25" width="10.40" height="1.50" fill="#A0D4F4" opacity="0.80"/>
<rect x="347.80" y="328.80" width="10.40" height="2.80" fill="#1080E0" opacity="1.00"/>
<rect x="362.30" y="314.50" width="10.60" height="59.50" fill="url(#g6)"/>
<rect x="362.30" y="314.80" width="10.60" height="1.60" fill="#2E9FEA" opacity="0.90"/>
<rect x="362.30" y="318.55" width="10.60" height="1.50" fill="#3AA6EB" opacity="0.90"/>
<rect x="362.30" y="323.25" width="10.60" height="1.50" fill="#4AADEC" opacity="0.90"/>
<rect x="362.30" y="339.40" width="10.60" height="3.40" fill="#168AE0" opacity="1.00"/>
<rect x="377.00" y="314.50" width="10.80" height="57.50" fill="url(#g7)"/>
<rect x="377.00" y="315.25" width="10.80" height="1.50" fill="#9ED3F4" opacity="0.80"/>
<rect x="377.00" y="340.40" width="10.80" height="3.00" fill="#2E9AE8" opacity="1.00"/>
</g>
<circle cx="341.60" cy="385.20" r="0.6" fill="#9a9a9a" opacity="0.7"/>
<circle cx="346.70" cy="392.20" r="0.6" fill="#9a9a9a" opacity="0.7"/>
<circle cx="352.70" cy="392.20" r="0.6" fill="#9a9a9a" opacity="0.7"/>
<path d="M315.70,337.30 L319.00,335.50 L319.00,339.10 Z" fill="#F47A2C"/>
<path d="M329.90,338.00 L333.20,336.20 L333.20,339.80 Z" fill="#F47A2C"/>
<path d="M344.30,337.00 L347.60,335.20 L347.60,338.80 Z" fill="#F47A2C"/>
<path d="M358.60,330.20 L361.90,328.40 L361.90,332.00 Z" fill="#F47A2C"/>
<path d="M373.30,341.10 L376.60,339.30 L376.60,342.90 Z" fill="#F47A2C"/>
<path d="M388.20,341.90 L391.50,340.10 L391.50,343.70 Z" fill="#F47A2C"/>
<text x="270.6" y="313.5" font-size="5.9" fill="#222">kD</text>
<line x1="270.6" y1="314.5" x2="277.8" y2="314.5" stroke="#333" stroke-width="0.5"/>
<text x="277.8" y="329.50" font-size="5.6" text-anchor="end" fill="#222">100</text>
<line x1="278.4" y1="327.50" x2="282.6" y2="327.50" stroke="#333" stroke-width="0.6"/>
<text x="277.8" y="335.70" font-size="5.6" text-anchor="end" fill="#222">70</text>
<line x1="278.4" y1="333.70" x2="282.6" y2="333.70" stroke="#333" stroke-width="0.6"/>
<text x="277.8" y="342.60" font-size="5.6" text-anchor="end" fill="#222">55</text>
<line x1="278.4" y1="340.60" x2="282.6" y2="340.60" stroke="#333" stroke-width="0.6"/>
<text x="277.8" y="359.60" font-size="5.6" text-anchor="end" fill="#222">35</text>
<line x1="278.4" y1="357.60" x2="282.6" y2="357.60" stroke="#333" stroke-width="0.6"/>
<text x="277.8" y="368.80" font-size="5.6" text-anchor="end" fill="#222">25</text>
<line x1="278.4" y1="366.80" x2="282.6" y2="366.80" stroke="#333" stroke-width="0.6"/>
<text x="277.8" y="388.60" font-size="5.6" text-anchor="end" fill="#222">15</text>
<line x1="278.4" y1="386.60" x2="282.6" y2="386.60" stroke="#333" stroke-width="0.6"/>
<text x="277.8" y="402.00" font-size="5.6" text-anchor="end" fill="#222">10</text>
<line x1="278.4" y1="400.00" x2="282.6" y2="400.00" stroke="#333" stroke-width="0.6"/>
<text x="0" y="0" font-size="5.95" fill="#1a1a1a" stroke="#1a1a1a" stroke-width="0.12" transform="translate(298.20,312.2) rotate(-64.5)">Marker</text>
<text x="0" y="0" font-size="5.95" fill="#1a1a1a" stroke="#1a1a1a" stroke-width="0.12" transform="translate(312.85,312.2) rotate(-64.5)">rNTSR1 (76 kDa)</text>
<text x="0" y="0" font-size="5.95" fill="#1a1a1a" stroke="#1a1a1a" stroke-width="0.12" transform="translate(327.15,312.2) rotate(-64.5)">bNTCP ((70 kDa)</text>
<text x="0" y="0" font-size="5.95" fill="#1a1a1a" stroke="#1a1a1a" stroke-width="0.12" transform="translate(341.70,312.2) rotate(-64.5)">hA2AR (75 kDa)</text>
<text x="0" y="0" font-size="5.95" fill="#1a1a1a" stroke="#1a1a1a" stroke-width="0.12" transform="translate(356.20,312.2) rotate(-64.5)">hGAT1 (99kDa)</text>
<text x="0" y="0" font-size="5.95" fill="#1a1a1a" stroke="#1a1a1a" stroke-width="0.12" transform="translate(370.80,312.2) rotate(-64.5)">hUGTrel7(68 Kda)</text>
<text x="0" y="0" font-size="5.95" fill="#1a1a1a" stroke="#1a1a1a" stroke-width="0.12" transform="translate(385.60,312.2) rotate(-64.5)">hUGTrel8 (66 KDa)</text>
<rect x="426" y="313.5" width="113" height="91" fill="#FAF3FB"/>
<g filter="url(#blr)">
</g><g filter="url(#blr2)">
<rect x="430.20" y="316.00" width="11.00" height="88.00" fill="url(#g8)"/>
<rect x="430.20" y="318.50" width="11.00" height="2.20" fill="#2AA0EA" opacity="1.00"/>
<rect x="430.20" y="321.90" width="11.00" height="2.20" fill="#2AA0EA" opacity="1.00"/>
<rect x="430.20" y="327.50" width="11.00" height="2.80" fill="#2498E6" opacity="1.00"/>
<rect x="430.20" y="333.50" width="11.00" height="3.40" fill="#4A5FB2" opacity="1.00"/>
<rect x="430.20" y="338.10" width="11.00" height="4.20" fill="#128AE0" opacity="1.00"/>
<rect x="430.20" y="355.70" width="11.00" height="3.20" fill="#1A98E6" opacity="1.00"/>
<rect x="430.20" y="365.20" width="11.00" height="2.80" fill="#C49AD4" opacity="0.90"/>
<rect x="430.20" y="383.70" width="11.00" height="3.40" fill="#26A2EA" opacity="1.00"/>
<rect x="430.20" y="397.50" width="11.00" height="3.80" fill="#10C2C8" opacity="1.00"/>
</g><g filter="url(#blr)">
<rect x="444.40" y="315.00" width="10.10" height="57.00" fill="url(#g9)"/>
<rect x="444.40" y="314.90" width="10.10" height="1.80" fill="#20BAF2" opacity="1.00"/>
<rect x="444.40" y="319.25" width="10.10" height="1.50" fill="#2EC0F4" opacity="0.90"/>
<rect x="444.40" y="322.85" width="10.10" height="1.50" fill="#2EC0F4" opacity="0.90"/>
<rect x="444.40" y="327.20" width="10.10" height="1.60" fill="#2ABEF2" opacity="0.90"/>
<rect x="444.40" y="330.85" width="10.10" height="1.50" fill="#2ABEF2" opacity="0.90"/>
<rect x="444.40" y="333.25" width="10.10" height="1.50" fill="#26BAF2" opacity="0.90"/>
<rect x="444.40" y="335.80" width="10.10" height="2.00" fill="#22B6F0" opacity="1.00"/>
<rect x="444.40" y="343.50" width="10.10" height="1.00" fill="#80D8F6" opacity="0.60"/>
<rect x="444.40" y="348.50" width="10.10" height="1.00" fill="#8CDCF6" opacity="0.50"/>
<rect x="444.40" y="352.50" width="10.10" height="1.00" fill="#98E0F7" opacity="0.50"/>
<rect x="444.40" y="359.30" width="10.10" height="2.00" fill="#18BEF4" opacity="1.00"/>
<rect x="444.40" y="315" width="1.2" height="45" fill="#38C6F4" opacity="0.3"/>
<rect x="453.30" y="315" width="1.2" height="45" fill="#38C6F4" opacity="0.3"/>
<rect x="458.40" y="315.00" width="10.10" height="57.00" fill="url(#g10)"/>
<rect x="458.40" y="314.90" width="10.10" height="1.80" fill="#20BAF2" opacity="1.00"/>
<rect x="458.40" y="319.25" width="10.10" height="1.50" fill="#2EC0F4" opacity="0.90"/>
<rect x="458.40" y="322.85" width="10.10" height="1.50" fill="#2EC0F4" opacity="0.90"/>
<rect x="458.40" y="327.20" width="10.10" height="1.60" fill="#2ABEF2" opacity="0.90"/>
<rect x="458.40" y="330.85" width="10.10" height="1.50" fill="#2ABEF2" opacity="0.90"/>
<rect x="458.40" y="333.25" width="10.10" height="1.50" fill="#26BAF2" opacity="0.90"/>
<rect x="458.40" y="335.80" width="10.10" height="2.00" fill="#22B6F0" opacity="1.00"/>
<rect x="458.40" y="343.50" width="10.10" height="1.00" fill="#80D8F6" opacity="0.60"/>
<rect x="458.40" y="348.50" width="10.10" height="1.00" fill="#8CDCF6" opacity="0.50"/>
<rect x="458.40" y="352.50" width="10.10" height="1.00" fill="#98E0F7" opacity="0.50"/>
<rect x="458.40" y="359.30" width="10.10" height="2.00" fill="#18BEF4" opacity="1.00"/>
<rect x="458.40" y="315" width="1.2" height="45" fill="#38C6F4" opacity="0.3"/>
<rect x="467.30" y="315" width="1.2" height="45" fill="#38C6F4" opacity="0.3"/>
<rect x="472.40" y="315.00" width="9.80" height="57.00" fill="url(#g11)"/>
<rect x="472.40" y="314.90" width="9.80" height="1.80" fill="#20BAF2" opacity="1.00"/>
<rect x="472.40" y="319.25" width="9.80" height="1.50" fill="#2EC0F4" opacity="0.90"/>
<rect x="472.40" y="322.85" width="9.80" height="1.50" fill="#2EC0F4" opacity="0.90"/>
<rect x="472.40" y="327.20" width="9.80" height="1.60" fill="#2ABEF2" opacity="0.90"/>
<rect x="472.40" y="330.85" width="9.80" height="1.50" fill="#2ABEF2" opacity="0.90"/>
<rect x="472.40" y="333.25" width="9.80" height="1.50" fill="#26BAF2" opacity="0.90"/>
<rect x="472.40" y="335.80" width="9.80" height="2.00" fill="#22B6F0" opacity="1.00"/>
<rect x="472.40" y="343.50" width="9.80" height="1.00" fill="#80D8F6" opacity="0.60"/>
<rect x="472.40" y="348.50" width="9.80" height="1.00" fill="#8CDCF6" opacity="0.50"/>
<rect x="472.40" y="352.50" width="9.80" height="1.00" fill="#98E0F7" opacity="0.50"/>
<rect x="472.40" y="359.30" width="9.80" height="2.00" fill="#18BEF4" opacity="1.00"/>
<rect x="472.40" y="336.70" width="9.80" height="2.60" fill="#1690E2" opacity="1.00"/>
<rect x="472.40" y="315" width="1.2" height="45" fill="#38C6F4" opacity="0.3"/>
<rect x="481.00" y="315" width="1.2" height="45" fill="#38C6F4" opacity="0.3"/>
<rect x="486.20" y="315.00" width="9.80" height="57.00" fill="url(#g12)"/>
<rect x="486.20" y="314.90" width="9.80" height="1.80" fill="#20BAF2" opacity="1.00"/>
<rect x="486.20" y="319.25" width="9.80" height="1.50" fill="#2EC0F4" opacity="0.90"/>
<rect x="486.20" y="322.85" width="9.80" height="1.50" fill="#2EC0F4" opacity="0.90"/>
<rect x="486.20" y="327.20" width="9.80" height="1.60" fill="#2ABEF2" opacity="0.90"/>
<rect x="486.20" y="330.85" width="9.80" height="1.50" fill="#2ABEF2" opacity="0.90"/>
<rect x="486.20" y="333.25" width="9.80" height="1.50" fill="#26BAF2" opacity="0.90"/>
<rect x="486.20" y="335.80" width="9.80" height="2.00" fill="#22B6F0" opacity="1.00"/>
<rect x="486.20" y="343.50" width="9.80" height="1.00" fill="#80D8F6" opacity="0.60"/>
<rect x="486.20" y="348.50" width="9.80" height="1.00" fill="#8CDCF6" opacity="0.50"/>
<rect x="486.20" y="352.50" width="9.80" height="1.00" fill="#98E0F7" opacity="0.50"/>
<rect x="486.20" y="359.30" width="9.80" height="2.00" fill="#18BEF4" opacity="1.00"/>
<rect x="486.20" y="315" width="1.2" height="45" fill="#38C6F4" opacity="0.3"/>
<rect x="494.80" y="315" width="1.2" height="45" fill="#38C6F4" opacity="0.3"/>
<rect x="499.80" y="315.00" width="9.70" height="57.00" fill="url(#g13)"/>
<rect x="499.80" y="314.90" width="9.70" height="1.80" fill="#20BAF2" opacity="1.00"/>
<rect x="499.80" y="319.25" width="9.70" height="1.50" fill="#2EC0F4" opacity="0.90"/>
<rect x="499.80" y="322.85" width="9.70" height="1.50" fill="#2EC0F4" opacity="0.90"/>
<rect x="499.80" y="327.20" width="9.70" height="1.60" fill="#2ABEF2" opacity="0.90"/>
<rect x="499.80" y="330.85" width="9.70" height="1.50" fill="#2ABEF2" opacity="0.90"/>
<rect x="499.80" y="333.25" width="9.70" height="1.50" fill="#26BAF2" opacity="0.90"/>
<rect x="499.80" y="335.80" width="9.70" height="2.00" fill="#22B6F0" opacity="1.00"/>
<rect x="499.80" y="343.50" width="9.70" height="1.00" fill="#80D8F6" opacity="0.60"/>
<rect x="499.80" y="348.50" width="9.70" height="1.00" fill="#8CDCF6" opacity="0.50"/>
<rect x="499.80" y="352.50" width="9.70" height="1.00" fill="#98E0F7" opacity="0.50"/>
<rect x="499.80" y="359.30" width="9.70" height="2.00" fill="#18BEF4" opacity="1.00"/>
<rect x="499.80" y="341.70" width="9.70" height="2.60" fill="#168CE0" opacity="1.00"/>
<rect x="499.80" y="315" width="1.2" height="45" fill="#38C6F4" opacity="0.3"/>
<rect x="508.30" y="315" width="1.2" height="45" fill="#38C6F4" opacity="0.3"/>
<rect x="513.40" y="315.00" width="10.10" height="57.00" fill="url(#g14)"/>
<rect x="513.40" y="314.90" width="10.10" height="1.80" fill="#20BAF2" opacity="1.00"/>
<rect x="513.40" y="319.25" width="10.10" height="1.50" fill="#2EC0F4" opacity="0.90"/>
<rect x="513.40" y="322.85" width="10.10" height="1.50" fill="#2EC0F4" opacity="0.90"/>
<rect x="513.40" y="327.20" width="10.10" height="1.60" fill="#2ABEF2" opacity="0.90"/>
<rect x="513.40" y="330.85" width="10.10" height="1.50" fill="#2ABEF2" opacity="0.90"/>
<rect x="513.40" y="333.25" width="10.10" height="1.50" fill="#26BAF2" opacity="0.90"/>
<rect x="513.40" y="335.80" width="10.10" height="2.00" fill="#22B6F0" opacity="1.00"/>
<rect x="513.40" y="343.50" width="10.10" height="1.00" fill="#80D8F6" opacity="0.60"/>
<rect x="513.40" y="348.50" width="10.10" height="1.00" fill="#8CDCF6" opacity="0.50"/>
<rect x="513.40" y="352.50" width="10.10" height="1.00" fill="#98E0F7" opacity="0.50"/>
<rect x="513.40" y="359.00" width="10.10" height="2.60" fill="#12B8F2" opacity="1.00"/>
<rect x="513.40" y="315" width="1.2" height="45" fill="#38C6F4" opacity="0.3"/>
<rect x="522.30" y="315" width="1.2" height="45" fill="#38C6F4" opacity="0.3"/>
</g>
<path d="M482.80,338.00 L486.10,336.20 L486.10,339.80 Z" fill="#F47A2C"/>
<path d="M509.90,343.00 L513.20,341.20 L513.20,344.80 Z" fill="#F47A2C"/>
<text x="415.0" y="313.5" font-size="5.9" fill="#222">kD</text>
<line x1="415.0" y1="314.5" x2="422.2" y2="314.5" stroke="#333" stroke-width="0.5"/>
<text x="422.3" y="330.00" font-size="5.6" text-anchor="end" fill="#222">100</text>
<line x1="423.0" y1="328.00" x2="427.0" y2="328.00" stroke="#333" stroke-width="0.6"/>
<text x="422.3" y="336.20" font-size="5.6" text-anchor="end" fill="#222">70</text>
<line x1="423.0" y1="334.20" x2="427.0" y2="334.20" stroke="#333" stroke-width="0.6"/>
<text x="422.3" y="342.90" font-size="5.6" text-anchor="end" fill="#222">55</text>
<line x1="423.0" y1="340.90" x2="427.0" y2="340.90" stroke="#333" stroke-width="0.6"/>
<text x="422.3" y="359.80" font-size="5.6" text-anchor="end" fill="#222">35</text>
<line x1="423.0" y1="357.80" x2="427.0" y2="357.80" stroke="#333" stroke-width="0.6"/>
<text x="422.3" y="368.60" font-size="5.6" text-anchor="end" fill="#222">25</text>
<line x1="423.0" y1="366.60" x2="427.0" y2="366.60" stroke="#333" stroke-width="0.6"/>
<text x="422.3" y="388.70" font-size="5.6" text-anchor="end" fill="#222">15</text>
<line x1="423.0" y1="386.70" x2="427.0" y2="386.70" stroke="#333" stroke-width="0.6"/>
<text x="422.3" y="402.00" font-size="5.6" text-anchor="end" fill="#222">10</text>
<line x1="423.0" y1="400.00" x2="427.0" y2="400.00" stroke="#333" stroke-width="0.6"/>
<text x="0" y="0" font-size="5.95" fill="#1a1a1a" stroke="#1a1a1a" stroke-width="0.12" transform="translate(435.70,311.8) rotate(-64.5)">Marker</text>
<text x="0" y="0" font-size="5.95" fill="#1a1a1a" stroke="#1a1a1a" stroke-width="0.12" transform="translate(449.65,311.8) rotate(-64.5)">rNTSR1 (76 kDa)</text>
<text x="0" y="0" font-size="5.95" fill="#1a1a1a" stroke="#1a1a1a" stroke-width="0.12" transform="translate(463.65,311.8) rotate(-64.5)">bNTCP ((67 kDa)</text>
<text x="0" y="0" font-size="5.95" fill="#1a1a1a" stroke="#1a1a1a" stroke-width="0.12" transform="translate(477.50,311.8) rotate(-64.5)">hA2AR (72 kDa)</text>
<text x="0" y="0" font-size="5.95" fill="#1a1a1a" stroke="#1a1a1a" stroke-width="0.12" transform="translate(491.30,311.8) rotate(-64.5)">hGAT1 (96kDa)</text>
<text x="0" y="0" font-size="5.95" fill="#1a1a1a" stroke="#1a1a1a" stroke-width="0.12" transform="translate(504.85,311.8) rotate(-64.5)">hUGTrel7(67 Kda)</text>
<text x="0" y="0" font-size="5.95" fill="#1a1a1a" stroke="#1a1a1a" stroke-width="0.12" transform="translate(518.65,311.8) rotate(-64.5)">hUGTrel8 (65 KDa)</text>
</svg></body></html>
